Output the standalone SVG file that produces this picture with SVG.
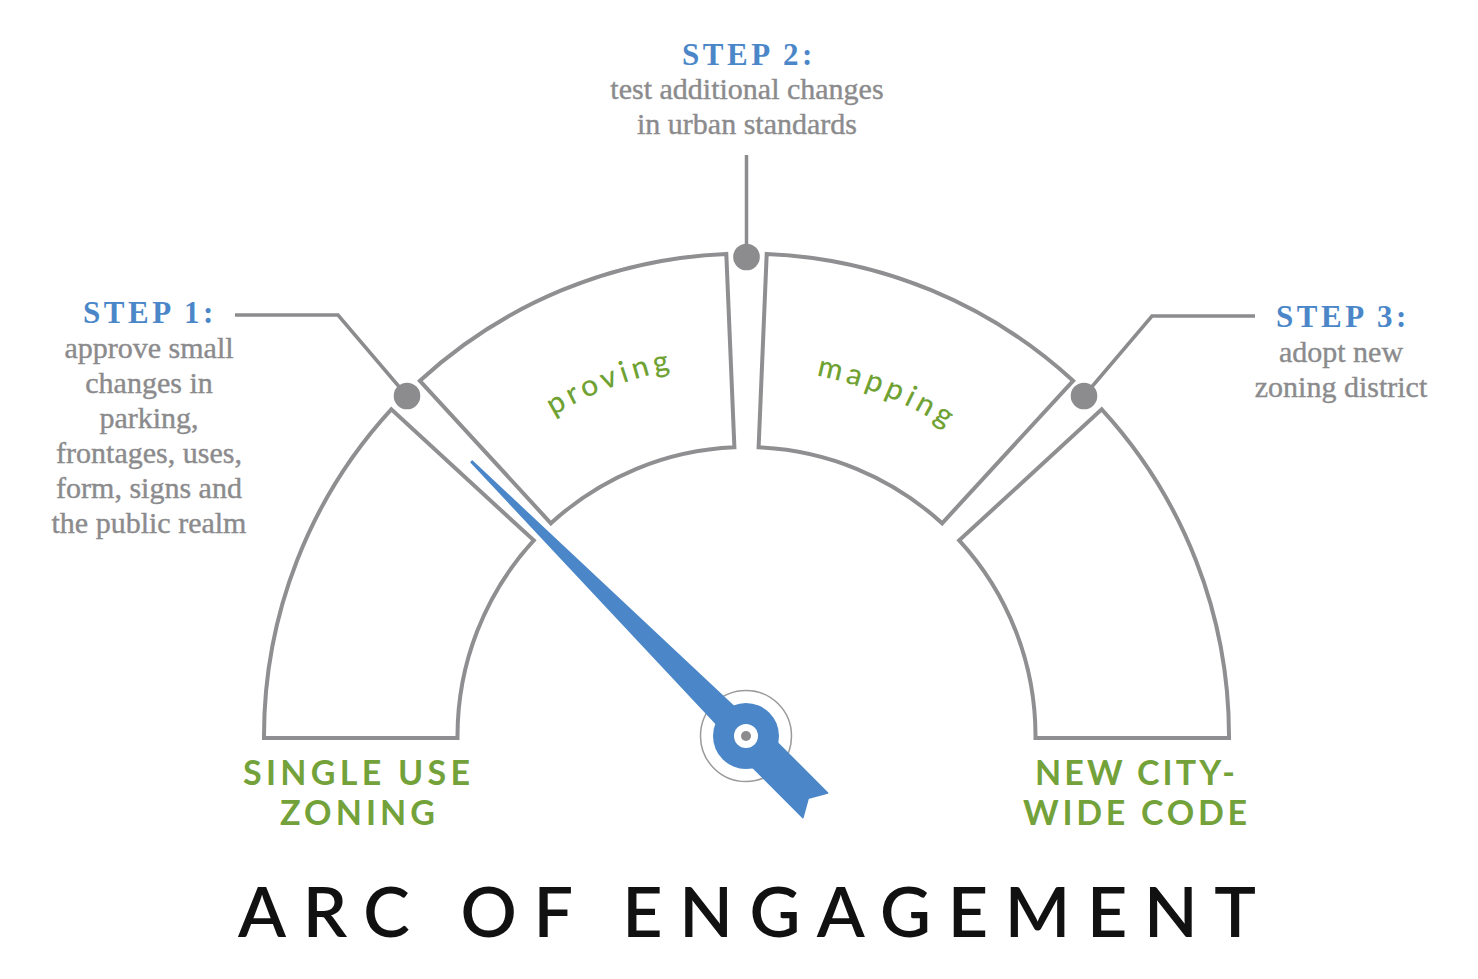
<svg xmlns="http://www.w3.org/2000/svg" width="1478" height="979" viewBox="0 0 1478 979">
  <style>
    .seg { fill: #ffffff; stroke: #8f8f91; stroke-width: 4; stroke-linejoin: miter; }
    .lead { fill: none; stroke: #8c8c8e; stroke-width: 3.5; stroke-linejoin: miter; }
    .dot { fill: #8c8c8e; }
    .step { font-family: "Liberation Serif", "Times New Roman", serif; font-weight: bold; font-size: 31px; letter-spacing: 3.5px; fill: #4b87c8; text-anchor: middle; }
    .body { font-family: "Liberation Serif", "Times New Roman", serif; font-size: 30px; fill: #8b8b8d; text-anchor: middle; stroke: #8b8b8d; stroke-width: 0.4; }
    .arcLabel { font-family: Lato, "Open Sans", sans-serif; font-weight: 500; font-size: 30px; letter-spacing: 4.5px; fill: #6fa233; }
    .endLabel { font-family: Lato, "Open Sans", sans-serif; font-weight: bold; font-size: 34px; fill: #74a23a; }
    .title { font-family: Lato, "Open Sans", sans-serif; font-weight: 600; font-size: 70px; fill: #111111; }
  </style>
  <defs>
    <path id="arcP" d="M 395.1,608.1 A 374 374 0 0 1 1097.9,608.1"/>
    <path id="arcM" d="M 401.6,610.5 A 367 367 0 0 1 1091.4,610.5"/>
  </defs>
  <rect width="1478" height="979" fill="#ffffff"/>

  <g id="connectors">
    <polyline class="lead" points="235,315 338,315 407,396"/>
    <line class="lead" x1="746.5" y1="155" x2="746.5" y2="257"/>
    <polyline class="lead" points="1255,316 1152,316 1084,396"/>
  </g>

  <g id="seg-single-use">
    <path class="seg" d="M 264,738 L 264,736 A 482.5 482.5 0 0 1 391.3,409.4 L 533.8,540.4 A 289 289 0 0 0 457.5,736 L 457.5,738 Z"/>
  </g>
  <g id="seg-proving">
    <path class="seg" d="M 419.9,380.8 A 482.5 482.5 0 0 1 726.3,253.9 L 734.4,447.3 A 289 289 0 0 0 550.9,523.3 Z"/>
    <text class="arcLabel"><textPath href="#arcP" startOffset="319" text-anchor="middle">proving</textPath></text>
  </g>
  <g id="seg-mapping">
    <path class="seg" d="M 766.7,253.9 A 482.5 482.5 0 0 1 1073.1,380.8 L 942.1,523.3 A 289 289 0 0 0 758.6,447.3 Z"/>
    <text class="arcLabel"><textPath href="#arcM" startOffset="591" text-anchor="middle">mapping</textPath></text>
  </g>
  <g id="seg-new-code">
    <path class="seg" d="M 1101.7,409.4 A 482.5 482.5 0 0 1 1229,736 L 1229,738 L 1035.5,738 L 1035.5,736 A 289 289 0 0 0 959.2,540.4 Z"/>
  </g>

  <g id="step1">
    <circle class="dot" cx="407" cy="396" r="13.3"/>
    <text class="step" x="150" y="323">STEP 1:</text>
    <text class="body" x="149" y="358">approve small</text>
    <text class="body" x="149" y="393">changes in</text>
    <text class="body" x="149" y="428">parking,</text>
    <text class="body" x="149" y="463">frontages, uses,</text>
    <text class="body" x="149" y="498">form, signs and</text>
    <text class="body" x="149" y="533">the public realm</text>
  </g>
  <g id="step2">
    <circle class="dot" cx="746.5" cy="257" r="13.3"/>
    <text class="step" x="749" y="65">STEP 2:</text>
    <text class="body" x="747" y="99">test additional changes</text>
    <text class="body" x="747" y="134">in urban standards</text>
  </g>
  <g id="step3">
    <circle class="dot" cx="1084" cy="396" r="13.3"/>
    <text class="step" x="1343" y="327">STEP 3:</text>
    <text class="body" x="1341" y="362">adopt new</text>
    <text class="body" x="1341" y="397">zoning district</text>
  </g>

  <g id="end-labels">
    <text class="endLabel" x="243" y="785" textLength="227" lengthAdjust="spacing">SINGLE USE</text>
    <text class="endLabel" x="280" y="825" textLength="155" lengthAdjust="spacing">ZONING</text>
    <text class="endLabel" x="1035" y="785" textLength="200" lengthAdjust="spacing">NEW CITY-</text>
    <text class="endLabel" x="1023" y="825" textLength="224" lengthAdjust="spacing">WIDE CODE</text>
  </g>

  <g id="needle">
    <circle cx="746" cy="736" r="45.5" fill="none" stroke="#9a9a9c" stroke-width="1.5"/>
    <g transform="translate(746,736) rotate(45)">
      <path d="M -388,-0.8 L -388,0.8 L -10,13 L 10,17.5 L 98,17.5 L 88,0 L 98,-17.5 L 10,-17.5 L -10,-13 Z" fill="#4b87c8" stroke="#4b87c8" stroke-width="1.5" stroke-linejoin="round"/>
    </g>
    <circle cx="746" cy="736" r="33" fill="#4b87c8"/>
    <circle cx="746" cy="736" r="12" fill="#ffffff"/>
    <circle cx="746" cy="736" r="5" fill="#8c8c8e"/>
  </g>

  <g id="title">
    <text class="title" x="238" y="937" textLength="1018" lengthAdjust="spacing">ARC OF ENGAGEMENT</text>
  </g>
</svg>
